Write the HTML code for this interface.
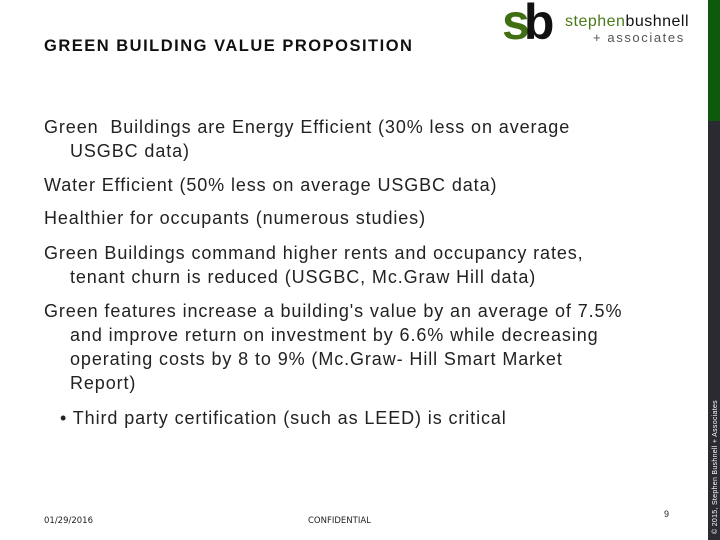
<!DOCTYPE html>
<html><head><meta charset="utf-8"><style>
body{margin:0;width:720px;height:540px;position:relative;background:#fff;font-family:"Liberation Sans",sans-serif;overflow:hidden}
.a{position:absolute}
.t{font-size:18px;color:#222;line-height:24px;letter-spacing:0.9px;white-space:nowrap}
.i{padding-left:26px}
</style></head><body>
<div class="a" style="left:708px;top:0;width:12px;height:121px;background:#0d5a0d"></div>
<div class="a" style="left:708px;top:121px;width:12px;height:419px;background:#2a2a30"></div>
<div class="a" style="left:712px;top:536px;transform:rotate(-90deg);transform-origin:0 0;font-size:7px;color:#fff;white-space:nowrap;letter-spacing:0.3px;margin-top:-2px">© 2015, Stephen Bushnell + Associates</div>
<div class="a" style="left:44px;top:37px;font-size:16.5px;font-weight:bold;color:#111;letter-spacing:1.5px;white-space:nowrap">GREEN BUILDING VALUE PROPOSITION</div>
<div class="a" style="left:502px;top:0;width:200px;height:50px">
 <span class="a" style="left:0;top:-6px;font-size:50px;font-weight:bold;letter-spacing:-6px;line-height:56px"><span style="color:#3f6e13">s</span><span style="color:#111">b</span></span>
 <span class="a" style="left:63px;top:13px;font-size:16px;color:#4a7a1a;white-space:nowrap;letter-spacing:0.5px">stephen<span style="color:#111">bushnell</span></span>
 <span class="a" style="left:91px;top:30px;font-size:13px;color:#555;white-space:nowrap;letter-spacing:1.6px">+ associates</span>
</div>
<div class="a t" style="left:44px;top:115px">Green&nbsp; Buildings are Energy Efficient (30% less on average<br><span class="i">USGBC data)</span></div>
<div class="a t" style="left:44px;top:173px">Water Efficient (50% less on average USGBC data)</div>
<div class="a t" style="left:44px;top:206px">Healthier for occupants (numerous studies)</div>
<div class="a t" style="left:44px;top:241px">Green Buildings command higher rents and occupancy rates,<br><span class="i">tenant churn is reduced (USGBC, Mc.Graw Hill data)</span></div>
<div class="a t" style="left:44px;top:299px">Green features increase a building's value by an average of 7.5%<br><span class="i">and improve return on investment by 6.6% while decreasing</span><br><span class="i">operating costs by 8 to 9% (Mc.Graw- Hill Smart Market</span><br><span class="i">Report)</span></div>
<div class="a t" style="left:60px;top:406px">• Third party certification (such as LEED) is critical</div>
<div class="a" style="left:44px;top:516px;font-size:8.5px;color:#222;font-family:'DejaVu Sans',sans-serif">01/29/2016</div>
<div class="a" style="left:308px;top:516px;font-size:8.5px;color:#222;font-family:'DejaVu Sans',sans-serif">CONFIDENTIAL</div>
<div class="a" style="left:664px;top:509px;font-size:9px;color:#222">9</div>
</body></html>
